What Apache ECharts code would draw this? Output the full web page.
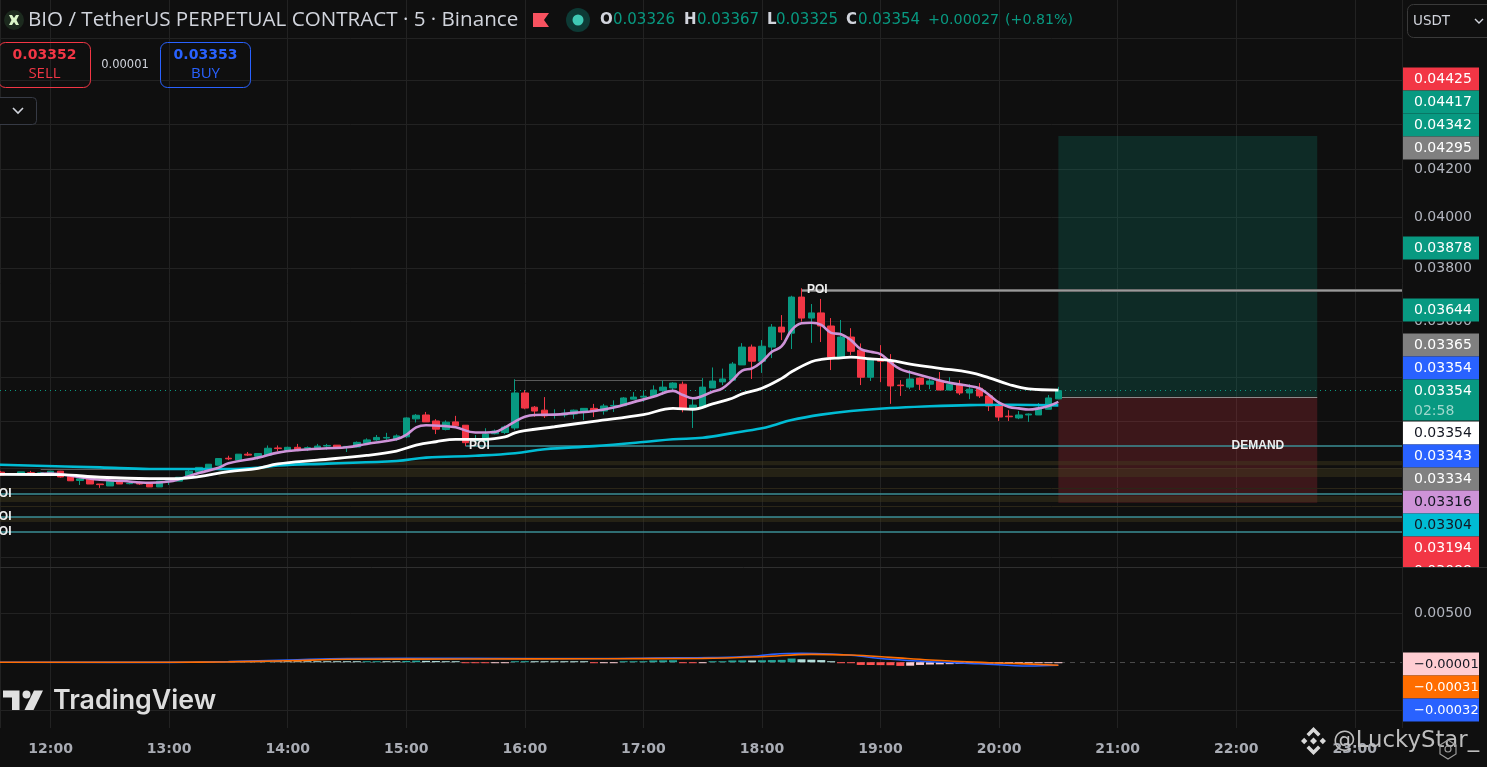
<!DOCTYPE html>
<html><head><meta charset="utf-8">
<style>html,body{margin:0;padding:0;background:#0f0f0f;overflow:hidden}#c{width:1487px;height:767px}</style>
<script src="https://cdn.jsdelivr.net/npm/echarts@6/dist/echarts.min.js"></script>
</head><body><div id="c"></div>
<script>
// time, open, close, low, high
const candleRows = [
['11:35',.03087,.03078,.03075,.03091],['11:40',.03079,.03082,.03078,.03083],['11:45',.03079,.03088,.03079,.03088],['11:50',.03085,.03084,.03077,.03091],
['11:55',.03083,.03085,.03082,.03088],['12:00',.03084,.03090,.03084,.03091],['12:05',.03090,.03072,.03070,.03091],['12:10',.03074,.03060,.03060,.03074],
['12:15',.03061,.03066,.03047,.03073],['12:20',.03065,.03050,.03050,.03071],['12:25',.03050,.03048,.03038,.03050],['12:30',.03044,.03059,.03044,.03059],
['12:35',.03060,.03050,.03050,.03060],['12:40',.03051,.03052,.03049,.03058],['12:45',.03052,.03050,.03047,.03058],['12:50',.03053,.03041,.03041,.03053],
['12:55',.03041,.03059,.03041,.03059],['13:00',.03058,.03060,.03047,.03065],['13:05',.03059,.03071,.03059,.03071],['13:10',.03069,.03090,.03069,.03098],
['13:15',.03088,.03102,.03088,.03102],['13:20',.03096,.03112,.03096,.03112],['13:25',.03109,.03130,.03109,.03131],['13:30',.03131,.03129,.03125,.03139],
['13:35',.03125,.03144,.03125,.03144],['13:40',.03144,.03141,.03138,.03151],['13:45',.03137,.03146,.03127,.03146],['13:50',.03141,.03163,.03141,.03172],
['13:55',.03164,.03162,.03154,.03172],['14:00',.03156,.03166,.03154,.03168],['14:05',.03166,.03159,.03157,.03177],['14:10',.03163,.03165,.03154,.03169],
['14:15',.03160,.03170,.03159,.03177],['14:20',.03170,.03172,.03158,.03177],['14:25',.03173,.03164,.03164,.03173],['14:30',.03166,.03169,.03151,.03169],
['14:35',.03167,.03182,.03166,.03185],['14:40',.03179,.03190,.03179,.03195],['14:45',.03190,.03198,.03187,.03206],['14:50',.03196,.03198,.03190,.03213],
['14:55',.03193,.03203,.03187,.03208],['15:00',.03200,.03262,.03196,.03264],['15:05',.03259,.03271,.03247,.03275],['15:10',.03272,.03249,.03249,.03282],
['15:15',.03252,.03225,.03209,.03258],['15:20',.03224,.03248,.03221,.03254],['15:25',.03249,.03236,.03233,.03269],['15:30',.03238,.03181,.03170,.03238],
['15:35',.03187,.03192,.03181,.03206],['15:40',.03186,.03209,.03186,.03228],['15:45',.03210,.03219,.03208,.03224],['15:50',.03214,.03232,.03209,.03237],
['15:55',.03229,.03346,.03222,.03393],['16:00',.03346,.03295,.03291,.03356],['16:05',.03298,.03285,.03266,.03302],['16:10',.03288,.03269,.03262,.03332],
['16:15',.03272,.03274,.03260,.03291],['16:20',.03272,.03278,.03264,.03291],['16:25',.03275,.03288,.03259,.03290],['16:30',.03285,.03294,.03255,.03294],
['16:35',.03294,.03285,.03265,.03309],['16:40',.03285,.03302,.03273,.03309],['16:45',.03302,.03304,.03282,.03321],['16:50',.03303,.03329,.03302,.03332],
['16:55',.03325,.03332,.03325,.03349],['17:00',.03332,.03335,.03316,.03355],['17:05',.03336,.03356,.03336,.03372],['17:10',.03354,.03366,.03339,.03389],
['17:15',.03363,.03380,.03356,.03383],['17:20',.03376,.03291,.03281,.03385],['17:25',.03290,.03305,.03229,.03331],['17:30',.03298,.03366,.03298,.03397],
['17:35',.03363,.03387,.03363,.03434],['17:40',.03384,.03394,.03373,.03430],['17:45',.03390,.03446,.03390,.03453],['17:50',.03443,.03506,.03443,.03520],
['17:55',.03506,.03456,.03394,.03515],['18:00',.03456,.03509,.03415,.03531],['18:05',.03506,.03578,.03467,.03589],['18:10',.03578,.03560,.03531,.03622],
['18:15',.03556,.03689,.03499,.03694],['18:20',.03689,.03611,.03598,.03722],['18:25',.03611,.03630,.03521,.03663],['18:30',.03630,.03582,.03524,.03682],
['18:35',.03582,.03471,.03425,.03611],['18:40',.03471,.03542,.03467,.03604],['18:45',.03542,.03491,.03478,.03574],['18:50',.03495,.03400,.03373,.03519],
['18:55',.03400,.03460,.03387,.03468],['19:00',.03464,.03456,.03383,.03513],['19:05',.03456,.03370,.03309,.03481],['19:10',.03373,.03371,.03336,.03390],
['19:15',.03366,.03394,.03359,.03425],['19:20',.03397,.03376,.03356,.03399],['19:25',.03376,.03387,.03359,.03397],['19:30',.03387,.03356,.03356,.03418],
['19:35',.03356,.03376,.03355,.03400],['19:40',.03376,.03346,.03339,.03390],['19:45',.03346,.03359,.03325,.03376],['19:50',.03362,.03336,.03329,.03380],
['19:55',.03336,.03302,.03285,.03345],['20:00',.03305,.03265,.03252,.03312],['20:05',.03268,.03266,.03252,.03288],['20:10',.03262,.03272,.03258,.03285],
['20:15',.03272,.03275,.03249,.03277],['20:20',.03272,.03295,.03272,.03312],['20:25',.03291,.03329,.03291,.03339],['20:30',.03326,.03354,.03325,.03367]
];
const purpleLine = [['11:55',.03082],['12:00',.03083],['12:15',.03071],['12:25',.03063],['12:35',.03060],['12:50',.03054],['13:00',.03058],['13:05',.03065],['13:15',.03084],['13:25',.03101],['13:30',.03115],['13:45',.03133],['13:55',.03149],['14:05',.03157],['14:20',.03163],['14:30',.03166],['14:40',.03177],['14:55',.03192],['15:00',.03206],['15:05',.03231],['15:10',.03238],['15:20',.03235],['15:25',.03231],['15:35',.03214],['15:45',.03216],['15:50',.03231],['15:55',.03250],['16:00',.03266],['16:05',.03272],['16:15',.03273],['16:25',.03279],['16:35',.03285],['16:45',.03297],['16:55',.03315],['17:05',.03333],['17:15',.03353],['17:20',.03339],['17:25',.03328],['17:35',.03350],['17:40',.03362],['17:45',.03390],['17:50',.03423],['17:55',.03431],['18:00',.03454],['18:05',.03489],['18:10',.03509],['18:15',.03567],['18:20',.03592],['18:25',.03594],['18:30',.03586],['18:35',.03557],['18:40',.03552],['18:45',.03531],['18:50',.03499],['18:55',.03489],['19:00',.03481],['19:05',.03452],['19:10',.03428],['19:15',.03417],['19:25',.03398],['19:35',.03381],['19:45',.03370],['19:50',.03362],['19:55',.03339],['20:00',.03313],['20:05',.03299],['20:10',.03294],['20:15',.03290],['20:20',.03294],['20:25',.03302],['20:30',.03316]];
const whiteLine = [['11:30',.03080],['12:05',.03079],['12:25',.03071],['12:50',.03067],['13:05',.03067],['13:15',.03073],['13:30',.03089],['13:45',.03099],['13:55',.03113],['14:15',.03125],['14:40',.03140],['14:55',.03154],['15:05',.03173],['15:15',.03184],['15:25',.03192],['15:40',.03192],['15:50',.03200],['15:55',.03213],['16:00',.03220],['16:15',.03233],['16:35',.03251],['17:00',.03273],['17:15',.03294],['17:25',.03291],['17:35',.03309],['17:45',.03328],['17:50',.03343],['18:00',.03362],['18:10',.03396],['18:15',.03419],['18:25',.03454],['18:30',.03462],['18:40',.03468],['18:45',.03470],['18:55',.03464],['19:05',.03459],['19:15',.03446],['19:30',.03431],['19:45',.03417],['19:55',.03398],['20:05',.03375],['20:15',.03360],['20:30',.03356]];
const cyanLine = [['11:30',.03111],['12:25',.03102],['12:50',.03097],['13:15',.03097],['13:30',.03097],['13:45',.03101],['13:55',.03108],['14:20',.03114],['14:55',.03122],['15:10',.03133],['15:35',.03139],['15:55',.03147],['16:10',.03160],['16:35',.03170],['17:00',.03183],['17:15',.03192],['17:30',.03197],['17:45',.03212],['18:00',.03228],['18:05',.03236],['18:15',.03255],['18:30',.03273],['18:45',.03285],['19:05',.03295],['19:25',.03301],['19:45',.03305],['20:05',.03306],['20:30',.03304]];
const macdHist = [['13:30',.00003],['13:35',.00005],['13:40',.00004],['13:45',.00003],['13:50',.00010],['13:55',.00009],['14:00',.00008],['14:05',.00007],['14:10',.00006],['14:15',.00005],['14:20',.00004],['14:25',.00003],['14:30',.00002],['14:35',.00001],['14:40',.00005],['14:45',.00007],['14:50',.00006],['14:55',.00005],['15:00',.00013],['15:05',.00016],['15:10',.00014],['15:15',.00012],['15:20',.00010],['15:25',.00004],['15:30',-.00004],['15:35',-.00007],['15:40',-.00009],['15:45',-.00006],['15:50',-.00003],['15:55',.00009],['16:00',.00011],['16:05',.00010],['16:10',.00009],['16:15',.00006],['16:20',.00005],['16:25',.00004],['16:30',.00003],['16:35',-.00003],['16:40',-.00002],['16:45',-.00001],['16:50',.00003],['16:55',.00004],['17:00',.00005],['17:05',.00018],['17:10',.00019],['17:15',.00020],['17:20',-.00003],['17:25',-.00005],['17:30',-.00003],['17:35',.00002],['17:40',.00004],['17:45',.00018],['17:50',.00019],['17:55',.00018],['18:00',.00020],['18:05',.00022],['18:10',.00024],['18:15',.00038],['18:20',.00030],['18:25',.00026],['18:30',.00022],['18:35',.00004],['18:40',-.00003],['18:45',-.00010],['18:50',-.00028],['18:55',-.00029],['19:00',-.00030],['19:05',-.00031],['19:10',-.00038],['19:15',-.00036],['19:20',-.00028],['19:25',-.00024],['19:30',-.00022],['19:35',-.00020],['19:40',-.00018],['19:45',-.00016],['19:50',-.00014],['19:55',-.00013],['20:00',-.00012],['20:05',-.00011],['20:10',-.00009],['20:15',-.00008],['20:20',-.00006],['20:25',-.00003],['20:30',-.00001]];
const macdBlue = [['11:30',-.00001],['13:00',-.00002],['13:30',.00006],['14:00',.00022],['14:30',.00038],['15:30',.00040],['16:40',.00038],['17:05',.00043],['17:35',.00048],['17:55',.00060],['18:05',.00081],['18:20',.00092],['18:35',.00085],['18:45',.00071],['19:05',.00030],['19:25',.00005],['19:50',-.00015],['20:15',-.00039],['20:30',-.00032]];
const macdOrange = [['11:30',-.00001],['13:00',0],['13:30',.00004],['14:00',.00015],['14:30',.00030],['15:30',.00033],['16:40',.00036],['17:30',.00040],['18:00',.00057],['18:25',.00081],['18:45',.00074],['19:05',.00050],['19:25',.00023],['19:55',-.00005],['20:10',-.00015],['20:30',-.00031]];

const priceTicks = [.042,.04,.038,.036];
const priceGridOnly = [.048,.046,.044,.034,.0325,.031,.0295,.02832];
const priceLast = .03354;
const longTop = .04346, entryPrice = .03333, stopPrice = .02992;
const tealLevels = [['15:30',.03172],['11:30',.03019],['11:30',.02949],['11:30',.02905]];
const poiTop = .03715;
const thinGray = [['15:55','17:30',.03391],['11:30','15:00',.03231],['11:55','13:10',.03096]];
const bandZones = [['14:05',.03122,.03109],['13:25',.03100,.03072],['11:30',.03013,.02995],['11:30',.02946,.02934]];
const thinBrown = [.03038,.02982];
const tagValues = ['0.04425','0.04417','0.04342','0.04295','0.03878','0.03644','0.03365','0.03354','0.03354','0.03354','0.03343','0.03334','0.03316','0.03304','0.03194','0.03088','−0.00001','−0.00031','−0.00032'];

// ---------- layout and style (not data) ----------
const tagLayout = [
 [79,'#f23645','#fff'],[102,'#089981','#fff'],[125,'#089981','#fff'],[148,'#808080','#fff'],[248,'#089981','#fff'],[310,'#089981','#fff'],
 [345,'#808080','#fff'],[368,'#2962ff','#fff'],[391,'#089981','#fff'],[433,'#ffffff','#131722'],[456,'#2962ff','#fff'],[479,'#808080','#fff'],
 [502,'#ce93d8','#131722'],[525,'#00bcd4','#131722'],[548,'#f23645','#fff'],[570.5,'#f23645','#fff'],
 [664,'#ffcdd2','#131722'],[687,'#ff6d00','#fff'],[710,'#2962ff','#fff']];
const tms = s => { const [h,m] = s.split(':').map(Number); return new Date(2025,0,1,h,m).getTime(); };
const xMin = new Date(2025,0,1,11,34,24).getTime(), xMax = new Date(2025,0,1,23,23,54).getTime();
const pairs = rows => rows.map(r => [tms(r[0]), r[1]]);
const GRID = '#222222', MONO = '"DejaVu Sans"';
const el = [];
const T = (x,y,text,fill,font,align) => el.push({type:'text',z:100,style:{x,y,text,fill,font,textAlign:align||'left',textVerticalAlign:'middle'}});
const R = (x,y,w,h,fill,stroke,r) => el.push({type:'rect',z:100,shape:{x,y,width:w,height:h,r:r||0},style:{fill:fill||'transparent',stroke:stroke||null,lineWidth:1}});
const P = (points,fill,z) => el.push({type:'polygon',z:z||100,shape:{points},style:{fill}});
const PL = (points,stroke,lw) => el.push({type:'polyline',z:100,shape:{points},style:{stroke,lineWidth:lw,fill:null}});
const C = (cx,cy,r,fill) => el.push({type:'circle',z:100,shape:{cx,cy,r},style:{fill}});

// header
C(14,20,10,'#1c2a1e');
P([[9,15],[12,15],[14,18],[16,15],[19,15],[16.5,20],[19,25],[16,25],[14,22],[12,25],[9,25],[11.5,20]],'#d9f5c8');
T(28,20.5,'BIO / TetherUS PERPETUAL CONTRACT · 5 · Binance','#d1d4dc','20.6px "Open Sans"');
P([[533,13],[549,13],[544,20],[549,27],[533,27]],'#f7525f');
C(578,20,12,'#0d3a35'); C(578,20,5.5,'#3fc9b4');
T(600,20.5,'O','#d1d4dc','bold 15px '+MONO); T(613,20.5,'0.03326','#089981','15px '+MONO);
T(684,20.5,'H','#d1d4dc','bold 15px '+MONO); T(697,20.5,'0.03367','#089981','15px '+MONO);
T(767,20.5,'L','#d1d4dc','bold 15px '+MONO); T(776,20.5,'0.03325','#089981','15px '+MONO);
T(846,20.5,'C','#d1d4dc','bold 15px '+MONO); T(858,20.5,'0.03354','#089981','15px '+MONO);
T(928,20.5,'+0.00027','#089981','14.3px '+MONO); T(1005,20.5,'(+0.81%)','#089981','14.2px '+MONO);
// sell / buy
R(-1.5,42.5,92,45,null,'#f23645',7); R(160.5,42.5,90,45,null,'#2962ff',7);
T(44.5,55,'0.03352','#f23645','bold 14px '+MONO,'center'); T(44.5,74,'SELL','#f23645','15px "Open Sans"','center');
T(205.5,55,'0.03353','#2962ff','bold 14px '+MONO,'center'); T(205.5,74,'BUY','#2962ff','15px "Open Sans"','center');
T(125,65,'0.00001','#d1d4dc','11.5px '+MONO,'center');
R(-4.5,97.5,41,27,'#0f0f0f','#363a45',4); PL([[13,108],[18,113],[23,108]],'#d1d4dc',1.6);
// currency button
R(1407.5,4.5,90,33,'#0f0f0f','#3a3a3a',6);
T(1413,21,'USDT','#d1d4dc','13.5px '+MONO); PL([[1475,19],[1479,23],[1483,19]],'#d1d4dc',1.4);
// price tags
tagLayout.forEach((t,i) => {
  const tall = i===8, y0 = t[0]-11.5;
  R(1403,y0,76,tall?41:23,t[1]);
  T(1414,t[0]+0.5,tagValues[i],t[2],(i>=16?'13px ':'14px ')+MONO);
  if (tall) T(1414,t[0]+20,'02:58','#9fd8cd','14px '+MONO);
});
R(1403,567,76,18,'#0f0f0f');
el.push({type:'line',z:101,shape:{x1:0,y1:567.5,x2:1487,y2:567.5},style:{stroke:'#2f2f2f',lineWidth:1}});
// watermark: TradingView
P([[3,690.5],[19.5,690.5],[19.5,710],[12,710],[12,697.5],[3,697.5]],'#e0e0e0');
C(26.5,694.5,4,'#e0e0e0');
P([[34,690.5],[43,690.5],[33.5,710],[24.5,710]],'#e0e0e0');
T(53,700.5,'TradingView','#dddddd','600 26.8px Inter');
// watermark: author
const bx=1313.5, by=741;
P([[bx-12.5,by],[bx-9.3,by-3.2],[bx-6.1,by],[bx-9.3,by+3.2]],'#d8d8d8');
P([[bx+6.1,by],[bx+9.3,by-3.2],[bx+12.5,by],[bx+9.3,by+3.2]],'#d8d8d8');
P([[bx,by-3.5],[bx+3.5,by],[bx,by+3.5],[bx-3.5,by]],'#d8d8d8');
P([[bx,by-14],[bx+7,by-7],[bx+4.5,by-4.5],[bx,by-9],[bx-4.5,by-4.5],[bx-7,by-7]],'#d8d8d8');
P([[bx,by+14],[bx+7,by+7],[bx+4.5,by+4.5],[bx,by+9],[bx-4.5,by+4.5],[bx-7,by+7]],'#d8d8d8');
T(1333,741,'@LuckyStar_','#bdbdbd','22.8px "DejaVu Sans"');
el.push({type:'polygon',z:100,shape:{points:[[1448,740],[1456,745],[1456,754],[1448,759],[1440,754],[1440,745]]},style:{fill:null,stroke:'#9a9a9a',lineWidth:1.2}});
el.push({type:'circle',z:100,shape:{cx:1448,cy:749,r:3},style:{fill:null,stroke:'#9a9a9a',lineWidth:1.2}});

const ln = (data,color,w,z) => ({type:'line',xAxisIndex:0,yAxisIndex:0,data:pairs(data),smooth:0.4,showSymbol:false,symbol:'none',z,lineStyle:{color,width:w},silent:true,animation:false});
const gridMark = vals => vals.map(v => ({yAxis:v,label:{show:false},lineStyle:{color:GRID,width:1,type:'solid'}}));
const seg = (t1,t2,p,color,w,type) => [{coord:[t1,p],lineStyle:{color,width:w,type:type||'solid'}},{coord:[t2,p]}];
const poi = (time,p,text) => ({coord:[tms(time),p],value:text});
const histColor = i => { const v=macdHist[i][1], prev=i?macdHist[i-1][1]:0;
  return v>=0 ? (v>=prev?'#26a69a':'#b2dfdb') : (v>=prev?'#ffcdd2':'#ff5252'); };

const option = {
  backgroundColor:'#0f0f0f', animation:false,
  graphic:{elements:el},
  grid:[{left:0,top:0,width:1402,height:567},{left:0,top:568,width:1402,height:160}],
  xAxis:[0,1].map(i => ({type:'time',gridIndex:i,min:xMin,max:xMax,minInterval:3600000,maxInterval:3600000,splitNumber:12,
    axisLine:{show:false},axisTick:{show:false},
    splitLine:{show:true,lineStyle:{color:GRID,width:1}},
    axisLabel:{show:i===1,formatter:'{HH}:{mm}',color:'#a9acb4',fontFamily:'DejaVu Sans',fontSize:14,fontWeight:'bold',margin:14,showMinLabel:false,showMaxLabel:false,hideOverlap:false}})),
  yAxis:[
    {type:'log',logBase:10,gridIndex:0,min:.02803,max:.04991,axisLine:{show:false},axisTick:{show:false},axisLabel:{show:false},splitLine:{show:false}},
    {type:'value',gridIndex:1,min:-.00678,max:.00971,axisLine:{show:false},axisTick:{show:false},axisLabel:{show:false},splitLine:{show:false}}
  ],
  series:[
    // gridlines & axis labels
    {type:'line',xAxisIndex:0,yAxisIndex:0,data:[],silent:true,z:0,
     markLine:{z:0,silent:true,symbol:'none',animation:false,precision:8,
       data:gridMark(priceGridOnly).concat(priceTicks.map(v => ({yAxis:v,lineStyle:{color:GRID,width:1,type:'solid'},
         label:{show:true,position:'end',distance:12,formatter:v.toFixed(5),color:'#b2b5be',fontFamily:'DejaVu Sans',fontSize:14}})))}},
    // position tool and zones
    {type:'line',xAxisIndex:0,yAxisIndex:0,data:[],silent:true,z:1,
     markArea:{z:1,silent:true,animation:false,data:[
       [{coord:[tms('20:30'),longTop],itemStyle:{color:'rgba(8,153,129,0.2)'}},{coord:[tms('22:41'),entryPrice]}],
       [{coord:[tms('20:30'),entryPrice],itemStyle:{color:'rgba(242,54,69,0.2)'}},{coord:[tms('22:41'),stopPrice]}]
     ].concat(bandZones.map(b => [{coord:[tms(b[0]),b[1]],itemStyle:{color:'rgba(70,62,30,0.42)'}},{coord:[xMax,b[2]]}]))},
     markLine:{z:1,silent:true,symbol:'none',animation:false,precision:8,label:{show:false},data:[
       seg(tms('20:30'),tms('22:41'),entryPrice,'#8a8a8a',1)
     ].concat(thinBrown.map(p => seg(xMin,xMax,p,'#2b2618',1)))}},
    // reference lines
    {type:'line',xAxisIndex:0,yAxisIndex:0,data:[],silent:true,z:2,
     markLine:{z:2,silent:true,symbol:'none',animation:false,precision:8,label:{show:false},data:[
       seg(xMin,xMax,priceLast,'#089981',1,[1,4]),
       seg(tms('18:20'),xMax,poiTop,'#6e6e6e',3),
       seg(tms('18:20'),xMax,poiTop,'#9a9a9a',1)
     ].concat(thinGray.map(g => seg(tms(g[0]),tms(g[1]),g[2],'#5a5a5a',1)))
      .concat(tealLevels.map(l => seg(Math.max(tms(l[0]),xMin),xMax,l[1],'#3b8f96',1.6)))}},
    {type:'candlestick',xAxisIndex:0,yAxisIndex:0,z:3,barWidth:7,silent:true,animation:false,clip:true,
     data:candleRows.map(r => [tms(r[0]),r[1],r[2],r[3],r[4]]),
     encode:{x:0,y:[1,2,3,4]},
     itemStyle:{color:'#089981',color0:'#f23645',borderColor:'#089981',borderColor0:'#f23645',borderWidth:1}},
    ln(cyanLine,'#00bcd4',2.6,4),
    ln(purpleLine,'#ce93d8',2.6,4),
    ln(whiteLine,'#ffffff',2.8,5),
    // POI labels
    {type:'line',xAxisIndex:0,yAxisIndex:0,data:[],silent:true,z:6,
     markPoint:{z:6,silent:true,symbol:'circle',symbolSize:0,animation:false,
       label:{show:true,position:'inside',color:'#eeeeee',fontFamily:'Liberation Sans',fontWeight:'bold',fontSize:12,formatter:p => p.value},
       data:[poi('18:28',poiTop,'POI'),poi('15:37',.03172,'POI'),poi('11:35',.03019,'POI'),poi('11:35',.02949,'POI'),poi('11:35',.02905,'POI'),poi('22:11',.03172,'DEMAND')]}},
    // MACD pane
    {type:'line',xAxisIndex:1,yAxisIndex:1,data:[],silent:true,z:0,
     markLine:{z:0,silent:true,symbol:'none',animation:false,precision:8,data:[
       {yAxis:.005,lineStyle:{color:GRID,width:1,type:'solid'},label:{show:true,position:'end',distance:12,formatter:'0.00500',color:'#b2b5be',fontFamily:'DejaVu Sans',fontSize:14}},
       {yAxis:-.005,lineStyle:{color:GRID,width:1,type:'solid'},label:{show:false}},
       {yAxis:0,lineStyle:{color:'#4a4a4a',width:1,type:[5,5]},label:{show:false}}]}},
    {type:'custom',xAxisIndex:1,yAxisIndex:1,z:3,silent:true,animation:false,clip:true,
     encode:{x:0,y:1},
     data:macdHist.map((r,i) => [tms(r[0]),r[1],i]),
     renderItem:(params,api) => {
       const a = api.coord([api.value(0),0]), b = api.coord([api.value(0),api.value(1)]);
       const h = Math.max(1,Math.abs(b[1]-a[1]));
       return {type:'rect',shape:{x:a[0]-4,y:api.value(1)>=0?a[1]-h:a[1],width:8,height:h},style:{fill:histColor(api.value(2))}};
     }},
    {type:'line',xAxisIndex:1,yAxisIndex:1,data:pairs(macdBlue),smooth:0.4,symbol:'none',z:4,silent:true,animation:false,lineStyle:{color:'#2962ff',width:1.6}},
    {type:'line',xAxisIndex:1,yAxisIndex:1,data:pairs(macdOrange),smooth:0.4,symbol:'none',z:5,silent:true,animation:false,lineStyle:{color:'#ff6d00',width:1.6}}
  ]
};
const chart = echarts.init(document.getElementById('c'),null,{renderer:'canvas'});
chart.setOption(option);
</script>
</body></html>
